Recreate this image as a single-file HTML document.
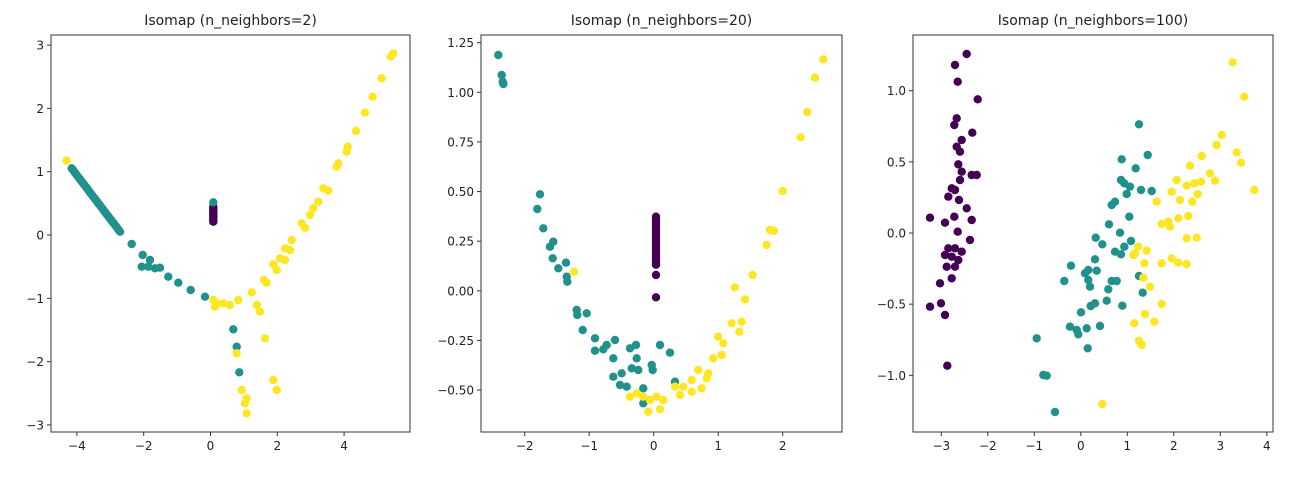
<!DOCTYPE html>
<html><head><meta charset="utf-8"><style>
html,body{margin:0;padding:0;background:#fff;}
svg text{font-family:"DejaVu Sans","Liberation Sans",sans-serif;fill:#222;}
</style></head><body>
<svg id="s" width="1305" height="475" xmlns="http://www.w3.org/2000/svg"></svg>
<script>
const P='#440154',T='#21918c',Y='#fde725';
const s=document.getElementById('s');let h='';
function panel(off,L,R,title,xt,yt,pts){
 const top=35,bot=432;
 h+=`<text x="${(L+R)/2}" y="25" font-size="14" text-anchor="middle">${title}</text>`;
 for(const [c,arr] of pts){for(const [zx,zy] of arr){h+=`<circle cx="${(off+zx/3).toFixed(1)}" cy="${(zy/3).toFixed(1)}" r="4.2" fill="${c}"/>`;}}
 h+=`<rect x="${L}" y="${top}" width="${R-L}" height="${bot-top}" fill="none" stroke="#333" stroke-width="1"/>`;
 for(const [v,p] of xt){h+=`<line x1="${p}" y1="${bot}" x2="${p}" y2="${bot+4}" stroke="#333"/><text x="${p}" y="${bot+18}" font-size="12" text-anchor="middle">${v}</text>`;}
 for(const [v,p] of yt){h+=`<line x1="${L-4}" y1="${p}" x2="${L}" y2="${p}" stroke="#333"/><text x="${L-7}" y="${p+4.5}" font-size="12" text-anchor="end">${v}</text>`;}
}
const m='\u2212';
function ticks(vals,a,b,fmt){return vals.map(v=>[fmt(v).replace('-',m),a+b*v]);}
// panel 1
let t1=[],p1=[];for(let y=620;y<=665;y+=5)p1.push([640,y]);
for(let i=0;i<=30;i++){t1.push([215+i*145/30,505+i*190/30]);}
t1.push([395,732],[428,765],[450,780],[425,800],[445,800],[465,805],[480,803],[505,830],[535,848],[572,870],[615,890],[700,988],[710,1040],[718,1117],[640,607]);
let y1=[[200,482],[640,900],[650,910],[645,920],[670,910],[690,915],[715,900],[710,1060],[755,877],[770,915],[780,935],[792,840],[800,848],[795,1015],[725,1170],[740,1195],[735,1210],[740,1240],[820,1140],[830,1170],[820,793],[830,810],[840,775],[855,780],[855,745],[870,750],[875,720],[905,670],[915,683],[930,645],[940,625],[955,605],[970,565],[985,572],[1010,500],[1015,490],[1040,455],[1043,440],[1068,393],[1095,338],[1118,290],[1145,235],[1172,170],[1180,160]];
panel(0,51,410,'Isomap (n_neighbors=2)',ticks([-4,-2,0,2,4],210.5,33.4,v=>''+v),ticks([-3,-2,-1,0,1,2,3],235,-63.3,v=>''+v),[[P,p1],[T,t1],[Y,y1]]);
// panel 2
let t2=[[205,165],[215,225],[218,245],[220,252],[330,583],[322,627],[340,685],[360,740],[370,725],[368,775],[385,805],[408,788],[410,830],[412,845],[440,930],[442,945],[470,940],[458,990],[495,1015],[495,1052],[520,1048],[530,1035],[550,1075],[555,1020],[550,1130],[575,1120],[570,1155],[590,1160],[600,1045],[618,1035],[620,1075],[605,1105],[625,1110],[665,1095],[668,1110],[690,1035],[720,1058],[735,1145],[640,1165],[640,1210]];
let p2=[];for(let y=650;y<=800;y+=8)p2.push([678,y]);p2.push([678,825],[678,892]);
let y2=[[432,815],[600,1190],[620,1180],[640,1190],[655,1235],[660,1200],[690,1228],[700,1200],[680,1190],[735,1160],[750,1185],[760,1160],[785,1140],[785,1175],[805,1110],[815,1165],[830,1135],[835,1120],[850,1075],[875,1065],[865,1010],[880,1030],[905,970],[935,965],[928,995],[945,898],[915,862],[968,825],[1010,735],[1020,690],[1032,692],[1058,573],[1112,412],[1132,336],[1155,233],[1180,178]];
panel(430,481,842,'Isomap (n_neighbors=20)',ticks([-2,-1,0,1,2],653.7,64.5,v=>''+v),ticks([-0.5,-0.25,0,0.25,0.5,0.75,1,1.25],290.8,-198.5,v=>v.toFixed(2)),[[T,t2],[P,p2],[Y,y2]]);
// panel 3
let p3=[[335,162],[300,195],[308,245],[368,298],[305,355],[298,375],[352,398],[320,420],[305,440],[315,455],[310,493],[320,515],[350,525],[365,525],[315,540],[290,565],[300,570],[280,590],[312,600],[225,653],[270,668],[298,650],[335,625],[350,660],[308,695],[345,720],[280,745],[300,745],[320,755],[270,765],[290,770],[310,780],[275,800],[300,800],[290,835],[255,850],[225,920],[258,910],[270,945],[277,1097]];
let t3=[[852,373],[878,465],[800,478],[842,505],[798,540],[808,550],[825,560],[815,582],[858,570],[890,573],[780,605],[770,615],[823,650],[762,673],[795,698],[722,713],[742,733],[828,723],[808,740],[780,755],[798,763],[720,778],[648,797],[690,820],[700,810],[725,812],[628,843],[700,840],[770,843],[785,843],[705,860],[760,868],[852,828],[863,878],[755,902],[720,910],[707,918],[802,917],[678,937],[645,980],[665,990],[695,985],[670,1003],[735,978],[698,1045],[545,1015],[565,1125],[575,1127],[600,1236]];
let y3=[[1133,187],[1168,290],[1100,405],[1085,435],[1145,457],[1158,488],[1040,468],[1005,497],[1065,520],[1080,542],[965,540],[995,557],[1018,550],[1038,545],[950,575],[975,600],[1012,605],[1028,582],[1198,570],[905,605],[920,672],[940,665],[945,680],[970,655],[1000,648],[995,715],[1025,713],[850,740],[875,752],[840,760],[835,765],[868,790],[920,790],[950,775],[970,788],[995,792],[865,833],[885,860],[920,912],[870,942],[898,965],[838,970],[852,1022],[860,1035],[742,1212]];
panel(855,913,1273,'Isomap (n_neighbors=100)',ticks([-3,-2,-1,0,1,2,3,4],1080.8,46.5,v=>''+v),ticks([-1,-0.5,0,0.5,1],233,-142.3,v=>v.toFixed(1)),[[P,p3],[T,t3],[Y,y3]]);
s.innerHTML=h;
</script>
</body></html>
